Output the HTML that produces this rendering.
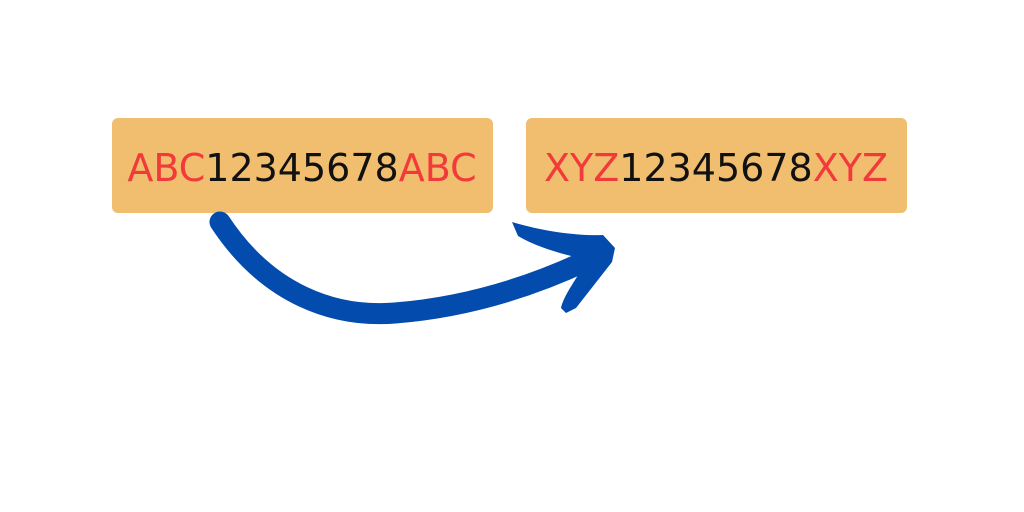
<!DOCTYPE html>
<html><head><meta charset="utf-8"><style>
html,body{margin:0;padding:0;background:#fff;}
svg{display:block;}
</style></head><body>
<svg width="1024" height="512" viewBox="0 0 1024 512" xmlns="http://www.w3.org/2000/svg">
<rect x="112" y="118" width="381" height="95" rx="6" fill="#f0be6e"/>
<rect x="526" y="118" width="381" height="95" rx="6" fill="#f0be6e"/>
<text x="302" y="181" text-anchor="middle" font-family="DejaVu Sans, sans-serif" font-size="38"><tspan fill="#f33a3a">ABC</tspan><tspan fill="#111">12345678</tspan><tspan fill="#f33a3a">ABC</tspan></text>
<text x="716" y="181" text-anchor="middle" font-family="DejaVu Sans, sans-serif" font-size="38"><tspan fill="#f33a3a">XYZ</tspan><tspan fill="#111">12345678</tspan><tspan fill="#f33a3a">XYZ</tspan></text>
<path d="M220,222 C268,295 335,318 395,313 C470,307 535,285 588,260" fill="none" stroke="#034cad" stroke-width="21" stroke-linecap="round"/>
<path d="M512,222 L518,236 C535,246 555,252 575,257 L590,262 L580,272 C572,285 563,298 561,308 L566,313 L576,308 L612,262 L615,248 L603,235 C580,236 545,232 512,222 Z" fill="#034cad"/>
</svg>
</body></html>
